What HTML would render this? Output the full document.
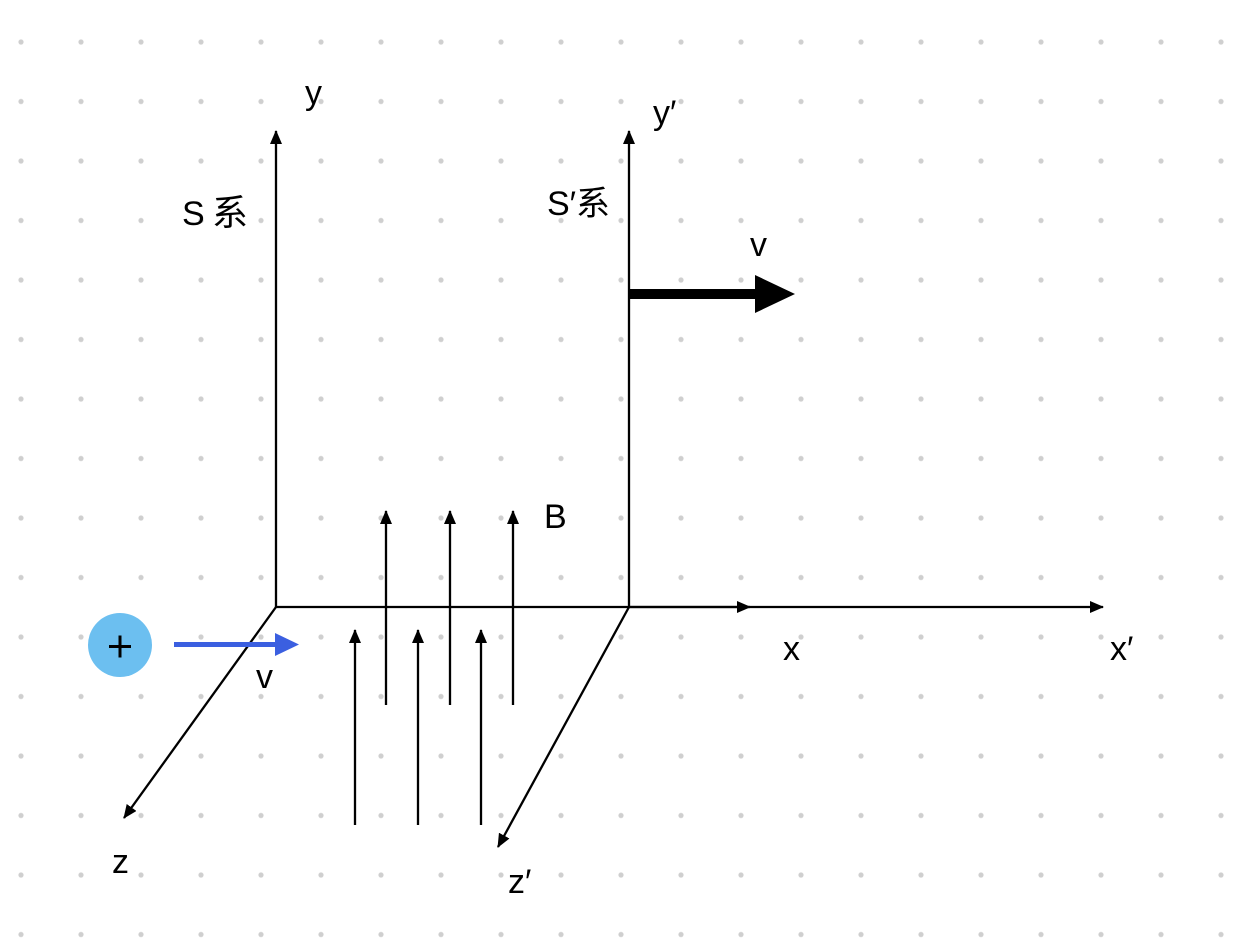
<!DOCTYPE html>
<html><head><meta charset="utf-8"><style>
html,body{margin:0;padding:0;background:#fff;}
svg{display:block;}
text{font-family:"Liberation Sans","Noto Sans CJK SC",sans-serif;fill:#000;}
</style></head><body>
<svg width="1242" height="947" viewBox="0 0 1242 947" xmlns="http://www.w3.org/2000/svg">
<defs>
<pattern id="dots" x="0" y="12.25" width="60" height="59.5" patternUnits="userSpaceOnUse">
<circle cx="21" cy="29.75" r="2.6" fill="#cfcfcf"/>
</pattern>
<marker id="ah" markerWidth="14" markerHeight="12" refX="13" refY="6" orient="auto" markerUnits="userSpaceOnUse">
<path d="M0,0 L14,6 L0,12 Z" fill="#000"/>
</marker>
</defs>
<rect width="1242" height="947" fill="url(#dots)"/>
<g stroke="#000" stroke-width="2.3" fill="none">
<line x1="276" y1="607" x2="276" y2="131" marker-end="url(#ah)"/>
<line x1="629" y1="607" x2="629" y2="131" marker-end="url(#ah)"/>
<line x1="276" y1="607" x2="750" y2="607" marker-end="url(#ah)"/>
<line x1="629" y1="607" x2="1103" y2="607" marker-end="url(#ah)"/>
<line x1="276" y1="607" x2="124" y2="818" marker-end="url(#ah)"/>
<line x1="629" y1="607" x2="498" y2="847" marker-end="url(#ah)"/>
<line x1="386" y1="705" x2="386" y2="511" marker-end="url(#ah)"/>
<line x1="450" y1="705" x2="450" y2="511" marker-end="url(#ah)"/>
<line x1="513" y1="705" x2="513" y2="511" marker-end="url(#ah)"/>
<line x1="355" y1="825" x2="355" y2="630" marker-end="url(#ah)"/>
<line x1="418" y1="825" x2="418" y2="630" marker-end="url(#ah)"/>
<line x1="481" y1="825" x2="481" y2="630" marker-end="url(#ah)"/>
</g>
<rect x="629" y="289" width="128" height="10" fill="#000"/>
<path d="M755,275 L795,294 L755,313 Z" fill="#000"/>
<rect x="174" y="642" width="104" height="5" fill="#3b5fe0"/>
<path d="M275,633 L299,644.5 L275,656 Z" fill="#3b5fe0"/>
<circle cx="120" cy="645" r="32" fill="#6cbff0"/>
<rect x="109" y="645" width="22" height="3" fill="#000"/>
<rect x="118.5" y="635.5" width="3" height="22" fill="#000"/>
<g font-size="34">
<text x="305" y="104">y</text>
<text x="182" y="225">S</text>
<text x="212" y="225" font-size="36">系</text>
<text x="653" y="124">y′</text>
<text x="547" y="215">S′系</text>
<text x="750" y="256">v</text>
<text x="544" y="528">B</text>
<text x="256" y="688">v</text>
<text x="783" y="660">x</text>
<text x="1110" y="660">x′</text>
<text x="112" y="873">z</text>
<text x="508" y="893">z′</text>
</g>
</svg>
</body></html>
